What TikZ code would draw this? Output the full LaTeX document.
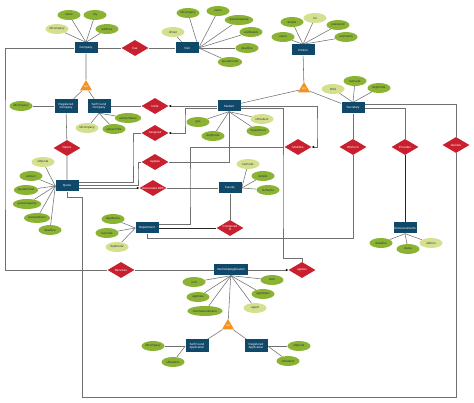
\documentclass[tikz,border=0pt]{standalone}
\usepackage{fontspec}
\setmainfont{Liberation Sans}
\usetikzlibrary{shapes.geometric,arrows.meta}
\definecolor{entc}{RGB}{16,72,106}
\definecolor{attc}{RGB}{138,178,51}
\definecolor{keyc}{RGB}{213,224,143}
\definecolor{relc}{RGB}{200,32,46}
\definecolor{isac}{RGB}{243,146,33}
\definecolor{linec}{RGB}{112,112,112}
\pgfdeclarelayer{bg}
\pgfsetlayers{bg,main}
\begin{document}
\begin{tikzpicture}[x=1pt,y=-1pt,
  every node/.style={font=\fontsize{3}{3.4}\selectfont, inner sep=0.5pt},
  ent/.style={rectangle, fill=entc, text=white, minimum width=23pt, minimum height=11pt, align=center},
  att/.style={ellipse, fill=attc, text=black!80, minimum width=23pt, minimum height=10pt},
  katt/.style={att, fill=keyc},
  rel/.style={diamond, aspect=1.7, fill=relc, text=white, minimum width=27pt, minimum height=16pt, inner sep=0pt, align=center},
  isa/.style={regular polygon, regular polygon sides=3, fill=isac, text=white, minimum size=14pt, inner sep=0pt, font=\fontsize{2.5}{3}\selectfont},
  ln/.style={draw=linec, line width=0.55pt},
  dk/.style={draw=black!85, line width=0.8pt},
  tip/.style={-{Latex[length=2.4pt,width=2.4pt,color=black]}}
]
\useasboundingbox (0,0) rectangle (474,403);
% Company
\node[ent] (Company) at (86,48) {Company};
\node[att] (cName) at (69,15) {name};
\node[att] (cCity) at (95,15) {city};
\node[katt] (cId) at (57,29) {idCompany};
\node[att] (cAddr) at (107,29) {address};
\node[rel] (has) at (135,48) {has};
% Visit
\node[ent] (Visit) at (187,48) {Visit};
\node[katt] (vId) at (173,32) {idVisit};
\node[att] (vComp) at (188,13) {idCompany};
\node[att] (vName) at (218,11) {name};
\node[att] (vCap) at (239,20) {quotaCapacity};
\node[att] (vDet) at (251,32) {visitDetails};
\node[att] (vDead) at (247,48) {deadline};
\node[att] (vPer) at (230,62) {quotaPeriod};
% Person
\node[ent] (Person) at (303,50) {Person};
\node[att] (pName) at (283,37) {name};
\node[att] (pDet) at (292,22) {details};
\node[katt] (pTel) at (315,18) {tel};
\node[att] (pPass) at (338,25) {password};
\node[att] (pUser) at (346,37) {username};
\node[isa] (isaP) at (304,89) {ISA};
% Student / Secretary
\node[ent] (Student) at (229,106) {Student};
\node[att] (sGpa) at (198,122) {gpa};
\node[att] (sDept) at (213,136) {deptCode};
\node[katt] (sId) at (262,119) {idStudent};
\node[att] (sDepartment) at (258,131) {department};
\node[ent] (Secretary) at (353,108) {Secretary};
\node[katt] (secId) at (333,89) {idSd};
\node[att] (secFax) at (355,81) {faxCode};
\node[att] (secDept) at (379,88) {deptCode};
% Company subtypes
\node[isa] (isaC) at (86,87) {ISA};
\node[ent, minimum height=14pt] (RegComp) at (66,106) {Registered\\Company};
\node[ent, minimum height=14pt] (SelfComp) at (99,106) {Self Found\\Company};
\node[att] (rcId) at (21,106) {idCompany};
\node[att] (scName) at (128,118) {advisorName};
\node[att] (scTitle) at (114,129) {advisorTitle};
\node[katt] (scId) at (87,128) {idCompany};
% relations left column
\node[rel] (Invite) at (155,106) {Invite};
\node[rel] (Assigned) at (155,133) {Assigned};
\node[rel] (Applies) at (155,162) {Applies};
\node[rel] (Assoc) at (153,188) {Associated With};
\node[rel] (Opens) at (67,148) {Opens};
% Quota
\node[ent] (Quota) at (67,186) {Quota};
\node[katt] (qId) at (43,162) {idQuota};
\node[att] (qAdv) at (31,176) {advisor};
\node[att] (qPer) at (26,190) {quotaPeriod};
\node[att] (qCap) at (27,204) {quotaCapacity};
\node[att] (qAdvisor) at (37,218) {quotaAdvisor};
\node[att] (qDead) at (50,230) {deadline};
% Faculty
\node[ent] (Faculty) at (230,188) {Faculty};
\node[katt] (fCode) at (248,164) {facCode};
\node[att] (fDet) at (263,176) {details};
\node[att] (fName) at (268,190) {facName};
\node[rel] (Composed) at (230,228) {Composed\\of};
% Department
\node[ent] (Department) at (147,228) {Department};
\node[att] (dName) at (113,219) {deptName};
\node[att] (dFac) at (107,233) {facCode};
\node[katt] (dCode) at (117,247) {deptCode};
% right relations
\node[rel] (Modifies) at (298,147) {Modifies};
\node[rel] (Works) at (353,147) {Works In};
\node[rel] (Provides) at (405,147) {Provides};
\node[rel] (decides) at (456,145) {decides};
% Announcements
\node[ent] (Ann) at (405,228) {Announcements};
\node[att] (aDead) at (381,243) {deadline};
\node[att] (aStat) at (408,249) {status};
\node[katt] (aId) at (431,243) {idAnno};
% Internship
\node[rel] (Receives) at (121,270) {Receives};
\node[ent, minimum width=34pt] (IA) at (231,270) {InternshipApplication};
\node[rel] (appl) at (302,270) {applies};
\node[att] (iEnd) at (194,282) {end};
\node[att] (iDate) at (198,297) {appDate};
\node[att, minimum width=24pt] (iIntl) at (205,311) {internationalIntern};
\node[att] (iStart) at (272,280) {start};
\node[att] (iStat) at (263,294) {appStatus};
\node[katt] (iId) at (255,308) {appId};
\node[isa] (isaI) at (228,326) {ISA};
\node[ent, minimum height=13pt] (SFA) at (197,346) {Self Found\\Application};
\node[ent, minimum height=13pt] (RA) at (256,346) {Registered\\Application};
\node[att] (sfaComp) at (153,346) {idCompany};
\node[att] (sfaStu) at (173,362) {idStudent};
\node[att] (raQuota) at (299,346) {idQuota};
\node[att] (raStu) at (288,361) {idStudent};

\begin{pgfonlayer}{bg}
\foreach \a in {cName,cCity,cId,cAddr} \draw[ln] (\a) -- (Company.north);
\draw[ln] (Company) -- (has) -- (Visit);
\draw[ln] (vId) -- (Visit);
\foreach \a in {vComp,vName,vCap,vDet,vDead,vPer} \draw[ln] (\a) -- (Visit.east);
\foreach \a in {pName,pDet,pTel,pPass,pUser} \draw[ln] (\a) -- (Person.north);
\draw[ln] (Person) -- (isaP);
\draw[ln] (isaP) -- (Student);
\draw[ln] (isaP) -- (Secretary);
\foreach \a in {sGpa,sDept,sId,sDepartment} \draw[ln] (\a) -- (Student.south);
\foreach \a in {secId,secFax,secDept} \draw[ln] (\a) -- (Secretary.north);
\draw[ln] (Company) -- (isaC);
\draw[ln] (isaC) -- (RegComp);
\draw[ln] (isaC) -- (SelfComp);
\draw[ln] (rcId) -- (RegComp.west);
\foreach \a in {scName,scTitle,scId} \draw[ln] (\a) -- (SelfComp.south);
\draw[ln] (SelfComp) -- (Invite);
\draw[ln,tip] (Student.west) -- (Invite.east);
\draw[ln,tip] ([yshift=-2pt]Student.west) -| (185,120) |- (Assigned.east);
\draw[ln] (Student.south) |- (Applies.east);
\draw[ln] ([yshift=-2pt]Student.east) -| (283,200) |- (302,258) -- (appl.north);
\draw[ln,tip] (Student.east) -| (317,130) |- (Modifies.east);
\draw[ln] (RegComp) -- (Opens) -- (Quota);
\foreach \a in {qId,qAdv,qPer,qCap,qAdvisor,qDead} \draw[ln] (\a) -- (Quota.west);
\draw[ln] ([yshift=4pt]Quota.east) -| (133,150) |- (Assigned.west);
\draw[ln] ([yshift=1pt]Quota.east) -| (138,175) |- (Applies.west);
\draw[ln,tip] ([yshift=-2pt]Quota.east) -- (Assoc.west);
\draw[ln] (Assoc) -- (Faculty);
\foreach \a in {fCode,fDet,fName} \draw[ln] (\a) -- (Faculty.east);
\draw[ln] (Faculty) -- (Composed);
\draw[dk] (Department.east) -- (Composed.west);
\foreach \a in {dName,dFac,dCode} \draw[ln] (\a) -- (Department.west);
\draw[ln] ([yshift=4pt]Department.east) -| (190,190) |- (Modifies.west);
\draw[ln] (Department.south) -- ++(0,4.5) -| (Works.south);
\draw[ln] (Secretary) -- (Works);
\draw[ln] (Secretary.east) -| (Provides.north);
\draw[ln] ([yshift=4pt]Secretary.east) -| (decides.north);
\draw[dk] (Provides) -- (Ann);
\foreach \a in {aDead,aStat,aId} \draw[ln] (\a) -- (Ann.south);
\draw[ln] (decides.south) |- (82,397) -- (82,197) -| (Quota.south);
\draw[ln] (Company.west) -| (5,150) |- (Receives.west);
\draw[ln] (Receives) -- (IA);
\draw[ln,tip] (IA.east) -- (appl.west);
\foreach \a in {iEnd,iDate,iIntl,iStart,iStat,iId} \draw[ln] (\a) -- (IA.south);
\draw[ln] (IA) -- (isaI);
\draw[ln] (isaI) -- (SFA);
\draw[ln] (isaI) -- (RA);
\foreach \a in {sfaComp,sfaStu} \draw[ln] (\a) -- (SFA.west);
\foreach \a in {raQuota,raStu} \draw[ln] (\a) -- (RA.east);
\end{pgfonlayer}
\end{tikzpicture}
\end{document}
